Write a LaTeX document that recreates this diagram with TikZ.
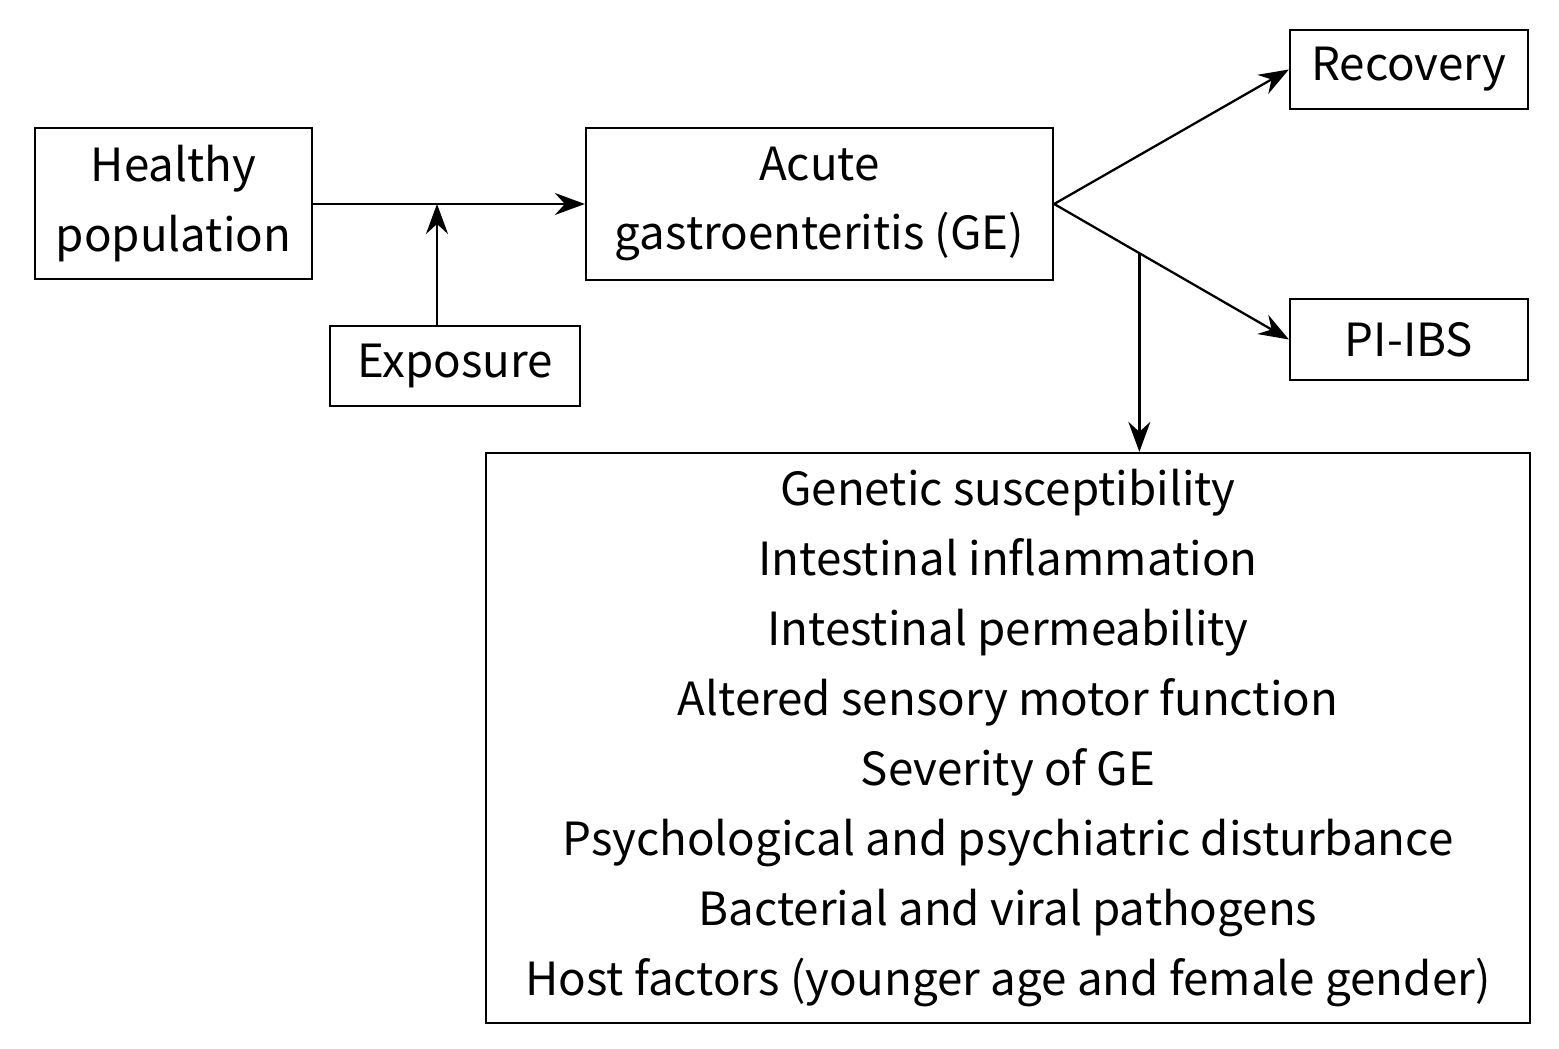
\documentclass[tikz,border=0pt]{standalone}
\usepackage{fontspec}
\setmainfont{Noto Sans CJK JP}
\usetikzlibrary{arrows.meta, positioning, calc}
\begin{document}
\begin{tikzpicture}[font=\fontsize{13}{19.9}\selectfont,
	box/.style={draw, line width=0.65pt, align=center, inner sep=0pt},
	arr/.style={line width=0.65pt, -{Stealth[length=3mm, width=2.2mm, inset=1mm]}}]
	\useasboundingbox (0,0) rectangle (15.59,-10.49);
	\node[box, minimum width=2.77cm, minimum height=1.51cm] (hp) at (1.735,-2.035) {Healthy\\population};
	\node[box, minimum width=2.50cm, minimum height=0.80cm] (ex) at (4.55,-3.66) {Exposure};
	\node[box, minimum width=4.67cm, minimum height=1.52cm] (ge) at (8.195,-2.04) {Acute\\gastroenteritis (GE)};
	\node[box, minimum width=2.38cm, minimum height=0.79cm] (rec) at (14.09,-0.695) {Recovery};
	\node[box, minimum width=2.38cm, minimum height=0.81cm] (ibs) at (14.09,-3.395) {PI-IBS};
	\node[box, minimum width=10.44cm, minimum height=5.70cm] (fac) at (10.08,-7.38) {Genetic susceptibility\\
		Intestinal inflammation\\
		Intestinal permeability\\
		Altered sensory motor function\\
		Severity of GE\\
		Psychological and psychiatric disturbance\\
		Bacterial and viral pathogens\\
		Host factors (younger age and female gender)};
	% exposure joins the line
	\coordinate (j) at (4.37,-2.04);
	\draw[arr] (hp.east |- j) -- (ge.west |- j);
	\draw[arr] (ex.north -| j) -- (j);
	% outcomes
	\draw[arr] (ge.east) -- (rec.west);
	\draw[arr] (ge.east) -- (ibs.west);
	\coordinate (k) at ($(ge.east)!0.363!(ibs.west)$);
	\draw[arr] (k) -- (k |- fac.north);
\end{tikzpicture}
\end{document}
